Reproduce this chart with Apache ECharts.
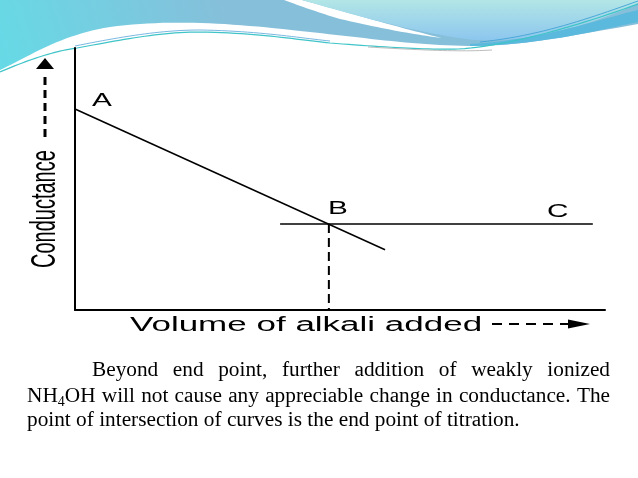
<!DOCTYPE html>
<html><head><meta charset="utf-8">
<script src="https://cdn.jsdelivr.net/npm/echarts@6/dist/echarts.min.js"></script>
<style>html,body{margin:0;padding:0;background:#fff}#c{width:638px;height:478px}</style>
</head><body><div id="c"></div>
<script>
// ---- data ----
const xLabel = 'Volume of alkali added';
const yLabel = 'Conductance';
const pointNames = ['A', 'B', 'C'];
const lineAB = [[0, 76.7], [58.5, 23]];
const lineBC = [[38.7, 32.8], [97.7, 32.8]];
const endLine = [[47.9, 32.8], [47.9, 0]];
const paraLines = [
  'Beyond end point, further addition of weakly ionized',
  'NH_4OH will not cause any appreciable change in conductance. The',
  'point of intersection of curves is the end point of titration.'
];

// ---- helpers ----
const ctx = document.createElement('canvas').getContext('2d');
const PF = '21.3px "Liberation Serif"', SF = '14px "Liberation Serif"';
function tw(t, f) { ctx.font = f; return ctx.measureText(t).width; }
function parts(word) {
  const m = word.split('_');
  if (m.length === 1) return [{ t: word }];
  return [{ t: m[0] }, { t: m[1][0], sub: true }, { t: m[1].slice(1) }];
}
function layoutLine(text, x0, x1, mid, justify, out) {
  const words = text.split(' ').map(parts);
  const widths = words.map(ps => ps.reduce((s, p) => s + tw(p.t, p.sub ? SF : PF), 0));
  const total = widths.reduce((a, b) => a + b, 0);
  const gap = justify ? (x1 - x0 - total) / (words.length - 1) : tw(' ', PF);
  let x = x0;
  words.forEach((ps, i) => {
    let xx = x;
    ps.forEach(p => {
      const f = p.sub ? SF : PF;
      out.push({ type: 'text', x: xx, y: mid + (p.sub ? 6 : 0), silent: true,
        style: { text: p.t, font: f, fill: '#000', textAlign: 'left', textVerticalAlign: 'middle' } });
      xx += tw(p.t, f);
    });
    x += widths[i] + gap;
  });
}
// sample simple SVG-like path (M, L, C, Z) into points
function samplePath(d) {
  const tok = d.replace(/,/g, ' ').trim().split(/\s+|(?=[MLCZ])|(?<=[MLCZ])/).filter(s => s.length);
  const pts = []; let i = 0, cmd = '', cx = 0, cy = 0;
  while (i < tok.length) {
    if (/^[MLCZ]$/.test(tok[i])) { cmd = tok[i]; i++; if (cmd === 'Z') continue; }
    if (cmd === 'M' || cmd === 'L') { cx = +tok[i]; cy = +tok[i + 1]; i += 2; pts.push([cx, cy]); }
    else if (cmd === 'C') {
      const x1 = +tok[i], y1 = +tok[i + 1], x2 = +tok[i + 2], y2 = +tok[i + 3], x3 = +tok[i + 4], y3 = +tok[i + 5];
      i += 6;
      for (let k = 1; k <= 24; k++) {
        const t = k / 24, u = 1 - t;
        pts.push([u * u * u * cx + 3 * u * u * t * x1 + 3 * u * t * t * x2 + t * t * t * x3,
                  u * u * u * cy + 3 * u * u * t * y1 + 3 * u * t * t * y2 + t * t * t * y3]);
      }
      cx = x3; cy = y3;
    } else i++;
  }
  return pts;
}
function fillShape(d, fill) {
  return { type: 'polygon', z: 0, silent: true, shape: { points: samplePath(d) }, style: { fill: fill } };
}
function strokeShape(d, stroke, w) {
  return { type: 'polyline', z: 0, silent: true, shape: { points: samplePath(d) }, style: { fill: null, stroke: stroke, lineWidth: w } };
}

const g = [];
// decorative wave
g.push(fillShape('M0,0 L638,0 L638,24 C560,38 510,47 468,46 C410,45 360,37 300,31 C230,23 170,19 110,27 C60,35 30,56 0,70 Z',
  { type: 'linear', x: 0, y: 1, x2: 0.35, y2: 0, colorStops: [{ offset: 0, color: '#66dae6' }, { offset: 1, color: '#86bfda' }] }));
g.push(fillShape('M284,0 C300,6 320,13 340,19 C380,28 410,34 442,38 C400,28 350,13 302,0 Z', '#ffffff'));
g.push(fillShape('M302,0 C350,14 420,34 475,40 C530,44 600,22 638,3 L638,0 Z',
  { type: 'linear', x: 0, y: 0, x2: 0, y2: 1, colorStops: [{ offset: 0, color: '#b2e6e6' }, { offset: 1, color: '#8cc6ee' }] }));
g.push(fillShape('M470,44 C540,40 590,22 638,10 L638,22 C590,32 540,45 470,46 Z', '#5ab9dc'));
g.push(strokeShape('M0,72 C30,59 55,51 77,48 C120,40 160,32 200,32 C260,33 300,40 330,43 C380,47 430,50 458,49 C510,46 580,25 638,4', '#3fc4c8', 1.2));
g.push(strokeShape('M75,46 C120,37 160,30 200,30 C260,31 300,38 330,41', '#7ab8e2', 1));
g.push(strokeShape('M368,47 C420,50 460,52 492,50', '#bdbdbd', 1));
g.push(strokeShape('M480,42 C540,36 590,18 638,1', '#4aa8d8', 1));

// y-axis dashed arrow and label
g.push({ type: 'line', silent: true, shape: { x1: 45, y1: 77, x2: 45, y2: 137 },
  style: { stroke: '#000', lineWidth: 3, lineDash: [8, 5] } });
g.push({ type: 'polygon', silent: true, shape: { points: [[45, 58], [36, 69], [54, 69]] }, style: { fill: '#000' } });
g.push({ type: 'text', silent: true, x: 45, y: 268, rotation: Math.PI / 2, scaleY: 1.75,
  style: { text: yLabel, font: '20px "Liberation Sans"', fill: '#000', textAlign: 'left', textVerticalAlign: 'middle' } });

// x-axis label and dashed arrow
g.push({ type: 'text', silent: true, x: 130, y: 325.8, scaleX: 1.75,
  style: { text: xLabel, font: '20px "Liberation Sans"', fill: '#000', textAlign: 'left', textVerticalAlign: 'middle' } });
g.push({ type: 'line', silent: true, shape: { x1: 492, y1: 324, x2: 568, y2: 324 },
  style: { stroke: '#000', lineWidth: 2, lineDash: [10, 7] } });
g.push({ type: 'polygon', silent: true, shape: { points: [[590, 324], [568, 319.5], [568, 328.5]] }, style: { fill: '#000' } });

// point labels
const labelPos = [[92, 101.5], [328, 209.5], [547, 212.5]];
pointNames.forEach((n, i) => {
  g.push({ type: 'text', silent: true, x: labelPos[i][0], y: labelPos[i][1], scaleX: 1.7,
    style: { text: n, font: '17.5px "Liberation Sans"', fill: '#000', textAlign: 'left', textVerticalAlign: 'middle' } });
});

// paragraph
layoutLine(paraLines[0], 92, 610, 370.5, true, g);
layoutLine(paraLines[1], 27, 610, 396.5, true, g);
layoutLine(paraLines[2], 27, 610, 420.5, false, g);

const chart = echarts.init(document.getElementById('c'), null, { renderer: 'canvas' });
const axisCommon = {
  type: 'value', min: 0, max: 100,
  axisLine: { show: true, onZero: false, lineStyle: { color: '#000', width: 2 } },
  axisTick: { show: false }, axisLabel: { show: false }, splitLine: { show: false }
};
chart.setOption({
  animation: false,
  backgroundColor: '#ffffff',
  grid: { left: 75, top: 48, right: 33, bottom: 168, containLabel: false },
  xAxis: axisCommon,
  yAxis: axisCommon,
  series: [
    { type: 'line', data: lineAB, symbol: 'none', silent: true, lineStyle: { color: '#000', width: 1.5 } },
    { type: 'line', data: lineBC, symbol: 'none', silent: true, lineStyle: { color: '#000', width: 1.5 } },
    { type: 'line', data: endLine, symbol: 'none', silent: true, lineStyle: { color: '#000', width: 2, type: [9, 5] } }
  ],
  graphic: g
});
</script>
</body></html>
